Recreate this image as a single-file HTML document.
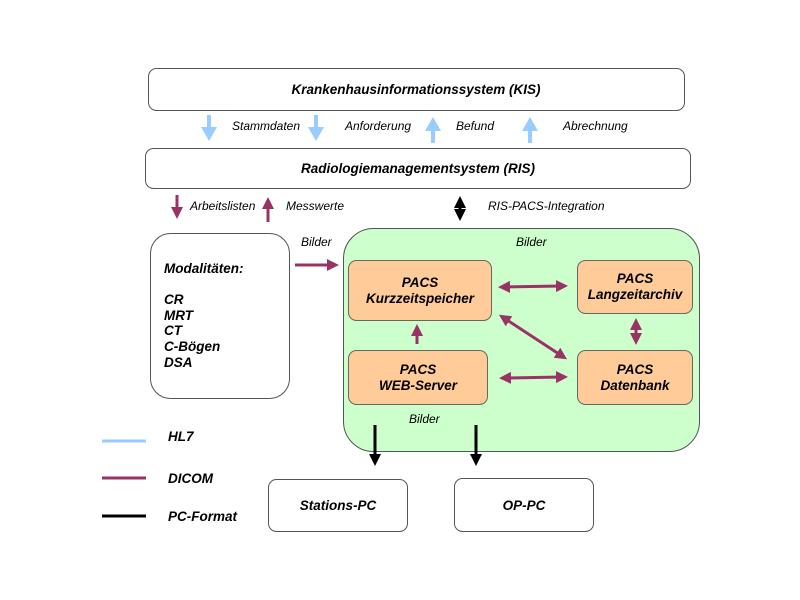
<!DOCTYPE html>
<html><head><meta charset="utf-8"><style>
html,body{margin:0;padding:0;background:#fff}
svg{display:block}
text{font-family:"Liberation Sans",sans-serif;font-style:italic;font-weight:bold;fill:#000}
.s{font-size:12px;font-weight:normal}
.m{font-size:13.5px}
</style></head><body>
<svg width="800" height="600" viewBox="0 0 800 600" xmlns="http://www.w3.org/2000/svg">
<defs>
<marker id="pa" markerWidth="4" markerHeight="4" refX="2" refY="2" orient="auto-start-reverse" markerUnits="strokeWidth"><path d="M0,0 L4,2 L0,4z" fill="#993366"/></marker>
<marker id="ba" markerWidth="4" markerHeight="4" refX="2" refY="2" orient="auto-start-reverse" markerUnits="strokeWidth"><path d="M0,0 L4,2 L0,4z" fill="#000"/></marker>
<marker id="la" markerWidth="3.5" markerHeight="4" refX="1.5" refY="2" orient="auto" markerUnits="strokeWidth"><path d="M0,0 L3.5,2 L0,4z" fill="#99ccff"/></marker>
</defs>
<rect x="148.5" y="68.5" width="536" height="42" rx="8" fill="#fff" stroke="#555"/>
<text x="416" y="94" text-anchor="middle" class="m">Krankenhausinformationssystem (KIS)</text>
<rect x="145.5" y="148.5" width="545" height="40" rx="8" fill="#fff" stroke="#555"/>
<text x="418" y="173" text-anchor="middle" class="m">Radiologiemanagementsystem (RIS)</text>
<g stroke="#99ccff" stroke-width="4">
<line x1="209" y1="115" x2="209" y2="133" marker-end="url(#la)"/>
<line x1="316" y1="115" x2="316" y2="133" marker-end="url(#la)"/>
<line x1="433" y1="143" x2="433" y2="125" marker-end="url(#la)"/>
<line x1="530" y1="143" x2="530" y2="125" marker-end="url(#la)"/>
</g>
<text x="232" y="130" class="s">Stammdaten</text>
<text x="345" y="130" class="s">Anforderung</text>
<text x="456" y="130" class="s">Befund</text>
<text x="563" y="130" class="s">Abrechnung</text>
<g stroke="#993366" stroke-width="3">
<line x1="177" y1="195" x2="177" y2="213" marker-end="url(#pa)"/>
<line x1="268" y1="222" x2="268" y2="203" marker-end="url(#pa)"/>
</g>
<line x1="460" y1="202" x2="460" y2="215" stroke="#000" stroke-width="3" marker-start="url(#ba)" marker-end="url(#ba)"/>
<text x="190" y="210" class="s">Arbeitslisten</text>
<text x="286" y="210" class="s">Messwerte</text>
<text x="488" y="210" class="s">RIS-PACS-Integration</text>
<rect x="150.5" y="233.5" width="139" height="165" rx="20" fill="#fff" stroke="#555"/>
<text x="164" y="273" class="m">Modalitäten:</text>
<text x="164" y="304" class="m">CR</text>
<text x="164" y="320" class="m">MRT</text>
<text x="164" y="335" class="m">CT</text>
<text x="164" y="351" class="m">C-Bögen</text>
<text x="164" y="367" class="m">DSA</text>
<text x="301" y="246" class="s">Bilder</text>
<line x1="295" y1="265" x2="333" y2="265" stroke="#993366" stroke-width="3" marker-end="url(#pa)"/>
<rect x="343.5" y="228.5" width="356" height="223" rx="30" fill="#ccffcc" stroke="#555"/>
<text x="516" y="246" class="s">Bilder</text>
<text x="409" y="423" class="s">Bilder</text>
<g fill="#ffcc99" stroke="#666">
<rect x="348.5" y="260.5" width="143" height="60" rx="8"/>
<rect x="577.5" y="260.5" width="115" height="53" rx="8"/>
<rect x="348.5" y="350.5" width="139" height="54" rx="8"/>
<rect x="577.5" y="350.5" width="115" height="54" rx="8"/>
</g>
<text x="420" y="287" text-anchor="middle" class="m">PACS</text>
<text x="420" y="303" text-anchor="middle" class="m">Kurzzeitspeicher</text>
<text x="635" y="283" text-anchor="middle" class="m">PACS</text>
<text x="635" y="299" text-anchor="middle" class="m">Langzeitarchiv</text>
<text x="418" y="374" text-anchor="middle" class="m">PACS</text>
<text x="418" y="390" text-anchor="middle" class="m">WEB-Server</text>
<text x="635" y="374" text-anchor="middle" class="m">PACS</text>
<text x="635" y="390" text-anchor="middle" class="m">Datenbank</text>
<g stroke="#993366" stroke-width="3">
<line x1="504" y1="287" x2="562" y2="286" marker-start="url(#pa)" marker-end="url(#pa)"/>
<line x1="636" y1="324" x2="636" y2="339" marker-start="url(#pa)" marker-end="url(#pa)"/>
<line x1="504" y1="318" x2="562" y2="356" marker-start="url(#pa)" marker-end="url(#pa)"/>
<line x1="505" y1="378" x2="562" y2="377" marker-start="url(#pa)" marker-end="url(#pa)"/>
<line x1="417" y1="344" x2="417" y2="330" marker-end="url(#pa)"/>
</g>
<g stroke="#000" stroke-width="3">
<line x1="375" y1="425" x2="375" y2="460" marker-end="url(#ba)"/>
<line x1="476" y1="425" x2="476" y2="460" marker-end="url(#ba)"/>
</g>
<rect x="268.5" y="479.5" width="139" height="52" rx="8" fill="#fff" stroke="#555"/>
<text x="338" y="510" text-anchor="middle" class="m">Stations-PC</text>
<rect x="454.5" y="478.5" width="139" height="53" rx="8" fill="#fff" stroke="#555"/>
<text x="524" y="510" text-anchor="middle" class="m">OP-PC</text>
<line x1="102" y1="441" x2="146" y2="441" stroke="#99ccff" stroke-width="3"/>
<line x1="102" y1="478" x2="146" y2="478" stroke="#993366" stroke-width="3"/>
<line x1="102" y1="516" x2="146" y2="516" stroke="#000" stroke-width="3"/>
<text x="168" y="441" class="m">HL7</text>
<text x="168" y="483" class="m">DICOM</text>
<text x="168" y="521" class="m">PC-Format</text>
</svg>
</body></html>
